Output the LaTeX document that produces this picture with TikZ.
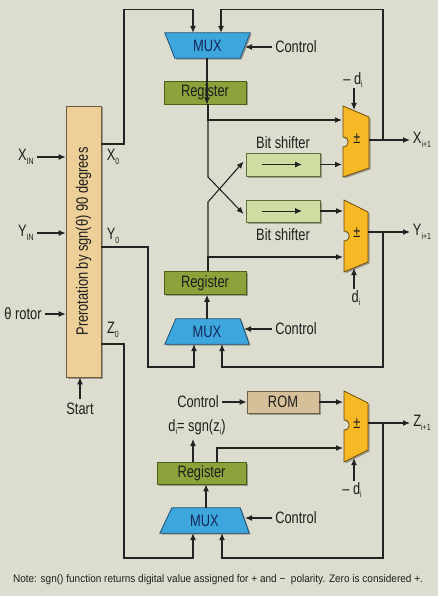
\documentclass[tikz,border=0pt]{standalone}
\usepackage{fontspec}
\setmainfont[FakeStretch=0.78]{Liberation Sans}
\newfontfamily\notefont[FakeStretch=0.92]{Liberation Sans}
\usetikzlibrary{arrows.meta,shadows,calc}
\definecolor{bgc}{RGB}{221,221,207}
\definecolor{ln}{RGB}{35,35,35}
\definecolor{txt}{RGB}{30,30,30}
\definecolor{pref}{RGB}{237,207,152}
\definecolor{pred}{RGB}{110,90,60}
\definecolor{muxf}{RGB}{61,166,220}
\definecolor{muxd}{RGB}{30,80,120}
\definecolor{muxt}{RGB}{20,40,90}
\definecolor{regf}{RGB}{139,163,58}
\definecolor{regd}{RGB}{75,95,25}
\definecolor{bsf}{RGB}{205,222,160}
\definecolor{bsd}{RGB}{95,110,60}
\definecolor{addf}{RGB}{247,184,37}
\definecolor{addd}{RGB}{110,75,10}
\definecolor{romf}{RGB}{214,192,154}
\definecolor{romd}{RGB}{110,95,70}
\newcommand\lsub[1]{\raisebox{-3.5pt}{\fontsize{9}{9}\selectfont #1}}
\pgfdeclarelayer{shapes}
\pgfsetlayers{shapes,main}
\begin{document}
\begin{tikzpicture}[x=1pt,y=-1pt,
  every node/.style={inner sep=0pt, text=txt},
  font=\fontsize{16.5}{17}\selectfont,
  wire/.style={draw=ln, line width=1.1pt},
  arr/.style={wire, -{Latex[length=7pt,width=6pt]}},
  shadowed/.style={drop shadow={shadow xshift=1.5pt, shadow yshift=-1.5pt, opacity=0.3, fill=black}},
  regst/.style={draw=regd, fill=regf, line width=0.8pt, minimum height=23pt, shadowed},
  bsst/.style={draw=bsd, fill=bsf, line width=0.8pt, minimum width=74pt, minimum height=23pt, shadowed},
  romst/.style={draw=romd, fill=romf, line width=0.8pt, minimum width=72pt, minimum height=22pt, shadowed},
  prest/.style={draw=pred, fill=pref, line width=0.8pt, minimum width=35pt, minimum height=271pt, shadowed},
  muxbox/.style={minimum height=25pt, text=muxt},
  muxst/.style={draw=muxd, fill=muxf, line width=0.8pt, shadowed},
  addst/.style={draw=addd, fill=addf, line width=0.8pt, shadowed},
  lbl/.style={text=txt}
]
\begin{pgfonlayer}{shapes}
\fill[bgc] (0,0) rectangle (438,596);
\end{pgfonlayer}
\useasboundingbox (0,0) rectangle (438,596);

% ---------- prerotation ----------
\node[prest] (pre) at (83.5,241.5) {};
\node[rotate=90] (pretxt) at (pre.center) {Prerotation by sgn(θ) 90 degrees};

\node[lbl] (xin) at (26,157) {X\lsub{IN}};
\node[lbl] (yin) at (26,233) {Y\lsub{IN}};
\node[lbl] (rot) at (23,314) {θ rotor};
\node[lbl] (start) at (80,409) {Start};
\draw[arr] ([xshift=3pt]xin.east) -- (pre.west |- xin);
\draw[arr] ([xshift=3pt]yin.east) -- (pre.west |- yin);
\draw[arr] ([xshift=3pt]rot.east) -- (pre.west |- rot);
\draw[arr] ([yshift=4pt]start.north) -- (pre.south -| start);

\node[lbl] (x0l) at (113,157) {X\lsub{0}};
\node[lbl] (y0l) at (113,236) {Y\lsub{0}};
\node[lbl] (z0l) at (113,330) {Z\lsub{0}};
\coordinate (x0o) at (101,144);
\coordinate (y0o) at (101,247);
\coordinate (z0o) at (101,344);

% ---------- X path ----------
\node[muxbox, minimum width=85pt] (mxx) at (207.5,45.5) {MUX};
\begin{pgfonlayer}{shapes}
\filldraw[muxst] (mxx.north west) -- (mxx.north east) -- ([xshift=-10pt]mxx.south east) -- ([xshift=10pt]mxx.south west) -- cycle;
\end{pgfonlayer}
\node[regst, minimum width=82pt] (rgx) at (205,92.5) {Register};
\node[lbl] (cx) at (296,47) {Control};
\draw[arr] ([xshift=-3pt]cx.west) -- (245,47);

\draw[arr] (x0o) -- (124,144) -- (124,9.5) -- (193,9.5) -- (mxx.north -| 193,0);
\coordinate (xj) at (383,140);
\draw[arr] (xj) -- (383,9.5) -- (221,9.5) -- (mxx.north -| 221,0);
\draw[arr] (mxx.south -| 207,0) -- (rgx.south -| 207,0) ;

% adders
\begin{pgfonlayer}{shapes}
\filldraw[addst] (343,106) -- (369,117) -- (369,168) -- (343,177) -- (343,147) .. controls (350,147) and (350,137) .. (343,137) -- cycle;
\filldraw[addst] (344,200) -- (368,212) -- (368,262) -- (344,272) -- (344,241) .. controls (351,241) and (351,231) .. (344,231) -- cycle;
\filldraw[addst] (344,391) -- (368,403) -- (368,450) -- (344,462) -- (344,430) .. controls (351,430) and (351,420) .. (344,420) -- cycle;
\end{pgfonlayer}
\node (xadd) at (357,139) {±};
\node (yadd) at (357,233) {±};
\node (zadd) at (357,424) {±};

% bit shifters
\node[lbl] (bs1l) at (283,143) {Bit shifter};
\node[bsst] (bs1) at (283,164.5) {};
\node[bsst, minimum height=22pt] (bs2) at (283,211) {};
\node[lbl] (bs2l) at (283,235) {Bit shifter};
\draw[arr, line width=0.9pt] ([xshift=-21pt]bs1.center) -- ([xshift=19pt]bs1.center);
\draw[arr, line width=0.9pt] ([xshift=-21pt]bs2.center) -- ([xshift=19pt]bs2.center);

% X register outputs
\draw[arr] (rgx.south -| 208,0) -- (208,120) -- (342,120);
\draw[arr] (208,120) -- (208,177) -- ([xshift=-2pt,yshift=-3pt]bs2.west);
\draw[arr] (bs1.east) -- (342,164.5);
\node[lbl] (mdx) at (353,80) {– d\lsub{i}};
\draw[arr] (354,88) -- (354,110);
\draw[arr] (369,140) -- (410,140);
\node[lbl] (xo) at (422,140) {X\lsub{i+1}};

% ---------- Y path ----------
\node[regst, minimum width=82pt] (rgy) at (205,283) {Register};
\node[muxbox, minimum width=84pt] (mxy) at (207,331.5) {MUX};
\begin{pgfonlayer}{shapes}
\filldraw[muxst] ([xshift=11pt]mxy.north west) -- ([xshift=-9pt]mxy.north east) -- (mxy.south east) -- (mxy.south west) -- cycle;
\end{pgfonlayer}
\node[lbl] (cy) at (296,329) {Control};
\draw[arr] ([xshift=-3pt]cy.west) -- (244,329);
\draw[arr] (mxy.north -| 207,0) -- (rgy.south -| 207,0);
\draw[arr] (rgy.north -| 208,0) -- (208,257) -- (343,257);
\draw[arr] (208,257) -- (208,202) -- ([xshift=-2pt,yshift=3pt]bs1.west);
\draw[arr] (bs2.east) -- (343,211);
\draw[arr] (y0o) -- (148,247) -- (148,367) -- (194,367) -- (mxy.south -| 194,0);
\coordinate (yj) at (383,232);
\draw[arr] (368,232) -- (410,232);
\draw[arr] (yj) -- (383,367) -- (222,367) -- (mxy.south -| 222,0);
\node[lbl] (ydi) at (356,298) {d\lsub{i}};
\draw[arr] (354,289) -- (354,268);
\node[lbl] (yo) at (422,232) {Y\lsub{i+1}};

% ---------- Z path ----------
\node[romst] (rom) at (283,402) {ROM};
\node[lbl] (cr) at (198,402) {Control};
\draw[arr] ([xshift=3pt]cr.east) -- (rom.west);
\draw[arr] (rom.east) -- (343,402);
\node[regst, minimum width=89pt, minimum height=22pt] (rgz) at (201.5,473) {Register};
\node[muxbox, minimum width=89pt] (mxz) at (204.5,520.5) {MUX};
\begin{pgfonlayer}{shapes}
\filldraw[muxst] ([xshift=12pt]mxz.north west) -- ([xshift=-9pt]mxz.north east) -- (mxz.south east) -- (mxz.south west) -- cycle;
\end{pgfonlayer}
\node[lbl] (cz) at (296,518) {Control};
\draw[arr] ([xshift=-3pt]cz.west) -- (245,518);
\draw[arr] (mxz.north -| 206,0) -- (rgz.south -| 206,0);
\node[lbl] (dsgn) at (197,427) {d\lsub{i}= sgn(z\lsub{i})};
\draw[arr] (rgz.north -| 193,0) -- (193,439);
\draw[arr] (rgz.north -| 217,0) -- (217,448) -- (343,448);
\draw[arr] (z0o) -- (124,344) -- (124,558) -- (193,558) -- (mxz.south -| 193,0);
\coordinate (zj) at (383,423);
\draw[arr] (368,423) -- (410,423);
\draw[arr] (zj) -- (383,558) -- (222,558) -- (mxz.south -| 222,0);
\node[lbl] (zdi) at (352,490) {– d\lsub{i}};
\draw[arr] (354,481) -- (354,458);
\node[lbl] (zo) at (422,423) {Z\lsub{i+1}};

% ---------- note ----------
\node[lbl, font=\notefont\fontsize{10.9}{12}\selectfont] (note) at (218,580) {Note: sgn() function returns digital value assigned for + and − \ polarity. Zero is considered +.};
\end{tikzpicture}
\end{document}
